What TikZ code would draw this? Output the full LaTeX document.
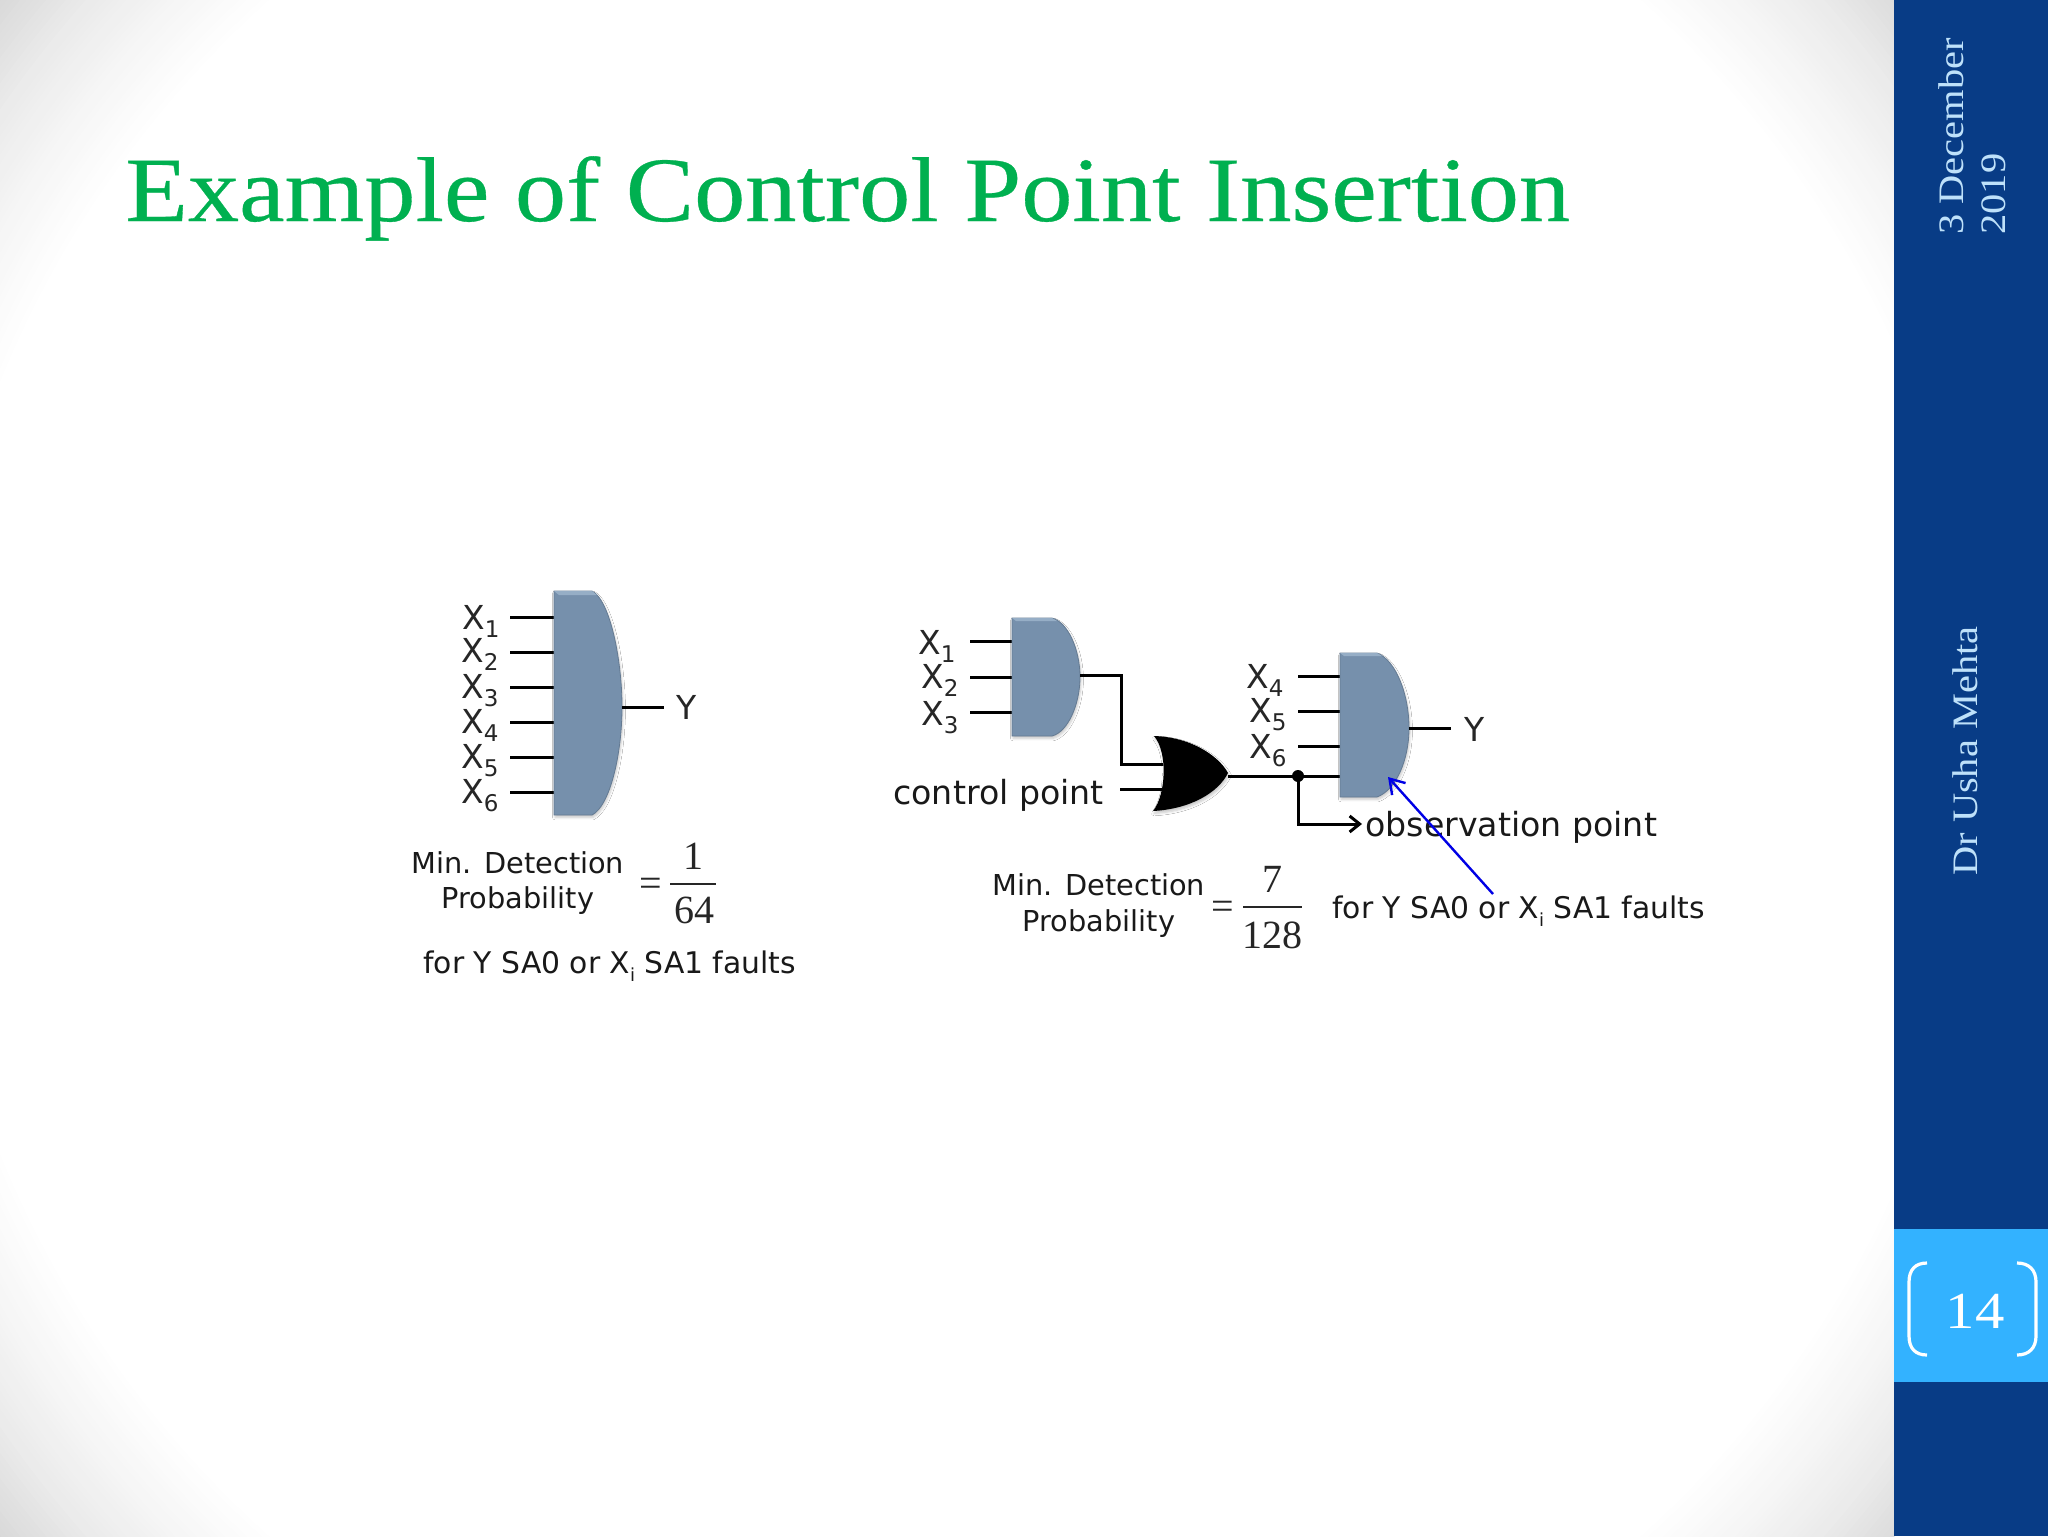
\documentclass[tikz,border=0pt]{standalone}
\usepackage{fontspec}
\setmainfont{DejaVu Sans}
\newfontfamily\ttl[FakeStretch=1.13]{Liberation Serif}
\newfontfamily\ttlb[FakeStretch=1.113,FakeBold=0.35]{Liberation Serif}
\newfontfamily\numf{Liberation Serif}
\usetikzlibrary{arrows.meta,shadows.blur}
\definecolor{navy}{RGB}{8,60,134}
\definecolor{sky}{RGB}{51,178,255}
\definecolor{steel}{RGB}{118,144,172}
\definecolor{steeltop}{RGB}{150,174,198}
\definecolor{ttlgreen}{RGB}{0,176,80}
\definecolor{sidetxt}{RGB}{190,225,250}
\tikzset{
  x=0.5pt,y=-0.5pt,
  wire/.style={line width=1.5pt,black},
  lab/.style={font=\fontsize{14.4}{17}\selectfont,inner sep=0pt,text=black!90},
  labl/.style={lab,anchor=base west},
  labc/.style={lab,anchor=base},
  labw/.style={labl,font=\fontsize{16.6}{20}\selectfont},
  labf/.style={labl,font=\fontsize{14.9}{18}\selectfont},
  xlab/.style={anchor=base east,inner sep=0pt,font=\fontsize{16.5}{20}\selectfont,text=black!85},
  num/.style={anchor=base,inner sep=0pt,font=\numf\fontsize{20}{24}\selectfont,text=black!85},
  softshadow/.style={blur shadow={shadow xshift=0.5pt,shadow yshift=-1.2pt,shadow blur steps=5,shadow blur radius=1.2pt,shadow opacity=22}},
  gatefill/.style={fill=steel,draw=steel!85!black,line width=0.4pt,softshadow},
  side/.style={inner sep=0pt,rotate=90,font=\ttl\fontsize{17.9}{20}\selectfont,text=sidetxt},
}
\newcommand{\XL}[1]{X\raisebox{-0.27em}{\fontsize{11.5}{12}\selectfont #1}}
\begin{document}
\begin{tikzpicture}
\useasboundingbox (0,0) rectangle (2048,1536);
\begin{scope}
\clip (0,0) rectangle (1894,1536);
\foreach \r in {1240,1235,...,1035}{
  \pgfmathsetmacro{\p}{\r>=1160 ? 92-(\r-1160)*6/59 : (\r>=1100 ? 96-(\r-1100)*4/60 : 100-(\r-1030)*4/70)}
  \fill[white!\p!black] (955,768) circle[radius=\r];
}
\fill[white] (955,768) circle[radius=1030];
\end{scope}
\fill[navy] (1894,0) rectangle (2048,1536);
\fill[sky] (1894,1229) rectangle (2048,1382);
\draw[white,line width=1.6pt] (1927,1263) .. controls (1915,1263) and (1909,1270) .. (1909,1282) -- (1909,1336) .. controls (1909,1348) and (1915,1355) .. (1927,1355);
\draw[white,line width=1.6pt] (2017,1263) .. controls (2029,1263) and (2036,1270) .. (2036,1282) -- (2036,1336) .. controls (2036,1348) and (2029,1355) .. (2017,1355);
\node[anchor=base,inner sep=0pt,text=white,font=\ttl\fontsize{26}{30}\selectfont] (pg) at (1975,1328) {14};
\node[side,anchor=base west] (d1) at (1963,235) {3 December};
\node[side,anchor=base west] (d2) at (2005,235) {2019};
\node[side,anchor=base] (au) at (1977,751) {Dr Usha Mehta};
\node[anchor=base west,inner sep=0pt,text=ttlgreen,font=\ttlb\fontsize{46}{56}\selectfont] (title) at (125,221) {Example of Control Point Insertion};

% left gate
\foreach \y in {617,652,687,722,757,792} \draw[wire] (510,\y) -- (556,\y);
\draw[gatefill] (554,591) -- (592,591) .. controls (610,600) and (622,660) .. (622,707) .. controls (622,754) and (610,806) .. (592,815) -- (554,815) -- cycle;
\fill[steeltop] (554,591) -- (592,591) -- (597,595) -- (559,595) -- cycle;
\coordinate (gA) at (622,707);
\coordinate (yA) at (664,707);
\draw[wire] (gA) -- (yA);
\node[xlab] (a1) at (500,629) {\XL{1}};
\node[xlab] (a2) at (499,662) {\XL{2}};
\node[xlab] (a3) at (499,698) {\XL{3}};
\node[xlab] (a4) at (499,733) {\XL{4}};
\node[xlab] (a5) at (499,768) {\XL{5}};
\node[xlab] (a6) at (499,803) {\XL{6}};
\node[xlab,anchor=base] (yl) at (687,719) {Y};
\node[labc] (m1) at (518,873) {Min. Detection};
\node[labc] (m2) at (518,908) {Probability};
\node[num,anchor=center] (eq1) at (651,887) {=};
\coordinate (f1a) at (670,884); \coordinate (f1b) at (716,884);
\draw[line width=0.7pt,black!85] (f1a) -- (f1b);
\node[num] (n1) at (693,869) {1};
\node[num] (d64) at (694,923) {64};
\node[labf] (fa) at (423,973) {for Y SA0 or X\raisebox{-0.3em}{\fontsize{9}{10}\selectfont i} SA1 faults};

% first AND
\foreach \y in {641,677,712} \draw[wire] (970,\y) -- (1014,\y);
\draw[gatefill] (1012,618) -- (1052,618) .. controls (1068,622) and (1080,650) .. (1080,677) .. controls (1080,704) and (1068,732) .. (1052,736) -- (1012,736) -- cycle;
\fill[steeltop] (1012,618) -- (1052,618) -- (1057,621) -- (1016,621) -- cycle;
\node[xlab] (b1) at (956,654) {\XL{1}};
\node[xlab] (b2) at (959,688) {\XL{2}};
\node[xlab] (b3) at (959,725) {\XL{3}};
\coordinate (o1) at (1080,675);
\coordinate (o2) at (1163,764);
\draw[wire] (o1) -| (1121,764) -- (o2);
\coordinate (c1) at (1120,789); \coordinate (c2) at (1165,789);
\draw[wire] (c1) -- (c2);
\node[labw] (cp) at (893,804) {control point};

% OR gate
\path[fill=black,softshadow] (1154,736) .. controls (1190,737) and (1218,755) .. (1228,773) .. controls (1218,793) and (1190,809) .. (1153,811) .. controls (1166,795) and (1168,752) .. (1154,736) -- cycle;

% second AND
\foreach \y in {676,711,746} \draw[wire] (1298,\y) -- (1342,\y);
\coordinate (orout) at (1228,776);
\coordinate (dot) at (1298,776);
\coordinate (and2in) at (1342,776);
\draw[wire] (orout) -- (and2in);
\draw[gatefill] (1340,653) -- (1377,653) .. controls (1396,660) and (1409,695) .. (1409,728) .. controls (1409,760) and (1396,790) .. (1377,797) -- (1340,797) -- cycle;
\fill[steeltop] (1340,653) -- (1377,653) -- (1382,656) -- (1344,656) -- cycle;
\fill[black] (dot) circle[radius=6];
\coordinate (obs) at (1362,824);
\draw[wire,-{Straight Barb[length=5pt,width=8pt]}] (dot) |- (obs);
\coordinate (y2a) at (1409,728); \coordinate (y2b) at (1451,728);
\draw[wire] (y2a) -- (y2b);
\node[xlab] (c4) at (1284,688) {\XL{4}};
\node[xlab] (c5) at (1287,722) {\XL{5}};
\node[xlab] (c6) at (1287,758) {\XL{6}};
\node[xlab,anchor=base] (y2) at (1475,741) {Y};
\node[labw] (op) at (1365,836) {observation point};
\node[labc] (m3) at (1099,895) {Min. Detection};
\node[labc] (m4) at (1099,931) {Probability};
\node[num,anchor=center] (eq2) at (1223,910) {=};
\coordinate (f2a) at (1243,907); \coordinate (f2b) at (1302,907);
\draw[line width=0.7pt,black!85] (f2a) -- (f2b);
\node[num] (n7) at (1272,892) {7};
\node[num] (d128) at (1272,948) {128};
\node[labf] (fb) at (1332,918) {for Y SA0 or X\raisebox{-0.3em}{\fontsize{9}{10}\selectfont i} SA1 faults};
\coordinate (bl1) at (1493,894); \coordinate (bl2) at (1388,777);
\draw[line width=1.2pt,color=blue!90!black,-{Straight Barb[length=7pt,width=9pt]}] (bl1) -- (bl2);
\end{tikzpicture}
\end{document}
